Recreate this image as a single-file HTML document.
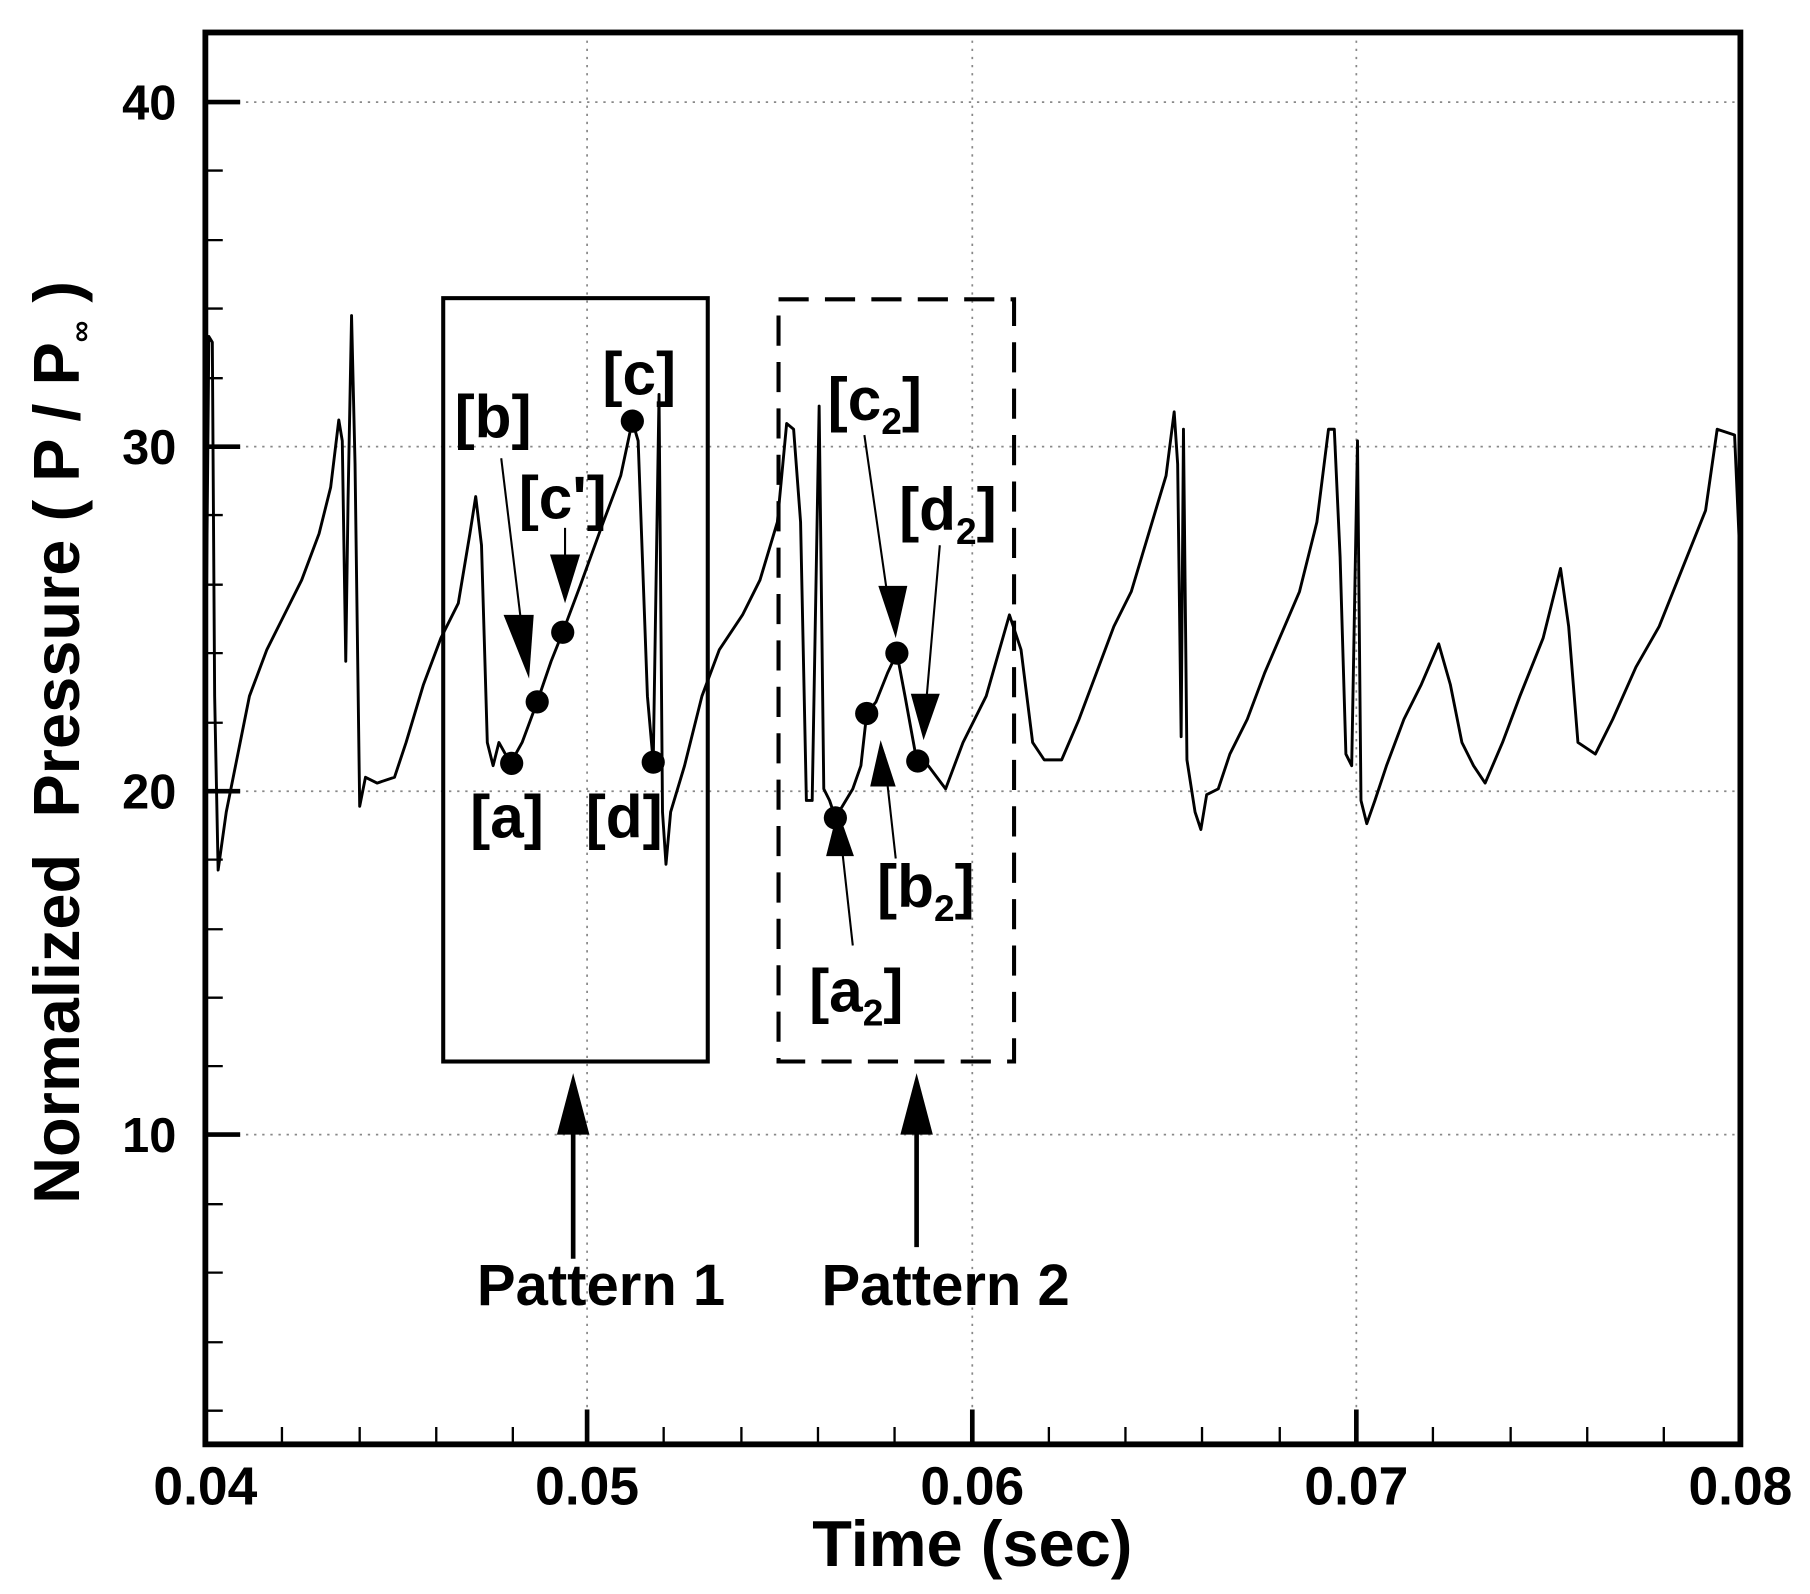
<!DOCTYPE html>
<html><head><meta charset="utf-8"><style>
html,body{margin:0;padding:0;background:#fff;}
svg{display:block;}
text{font-family:"Liberation Sans",Arial,sans-serif;font-weight:bold;fill:#000;}
</style></head><body>
<svg width="1810" height="1594" viewBox="0 0 1560 1374" preserveAspectRatio="none" xmlns="http://www.w3.org/2000/svg">
<rect width="1560" height="1374" fill="#fff"/>
<g stroke="#888" stroke-width="1.5" stroke-dasharray="2,5">
<line x1="506" y1="28" x2="506" y2="1245"/><line x1="838" y1="28" x2="838" y2="1245"/><line x1="1169" y1="28" x2="1169" y2="1245"/>
<line x1="177" y1="88" x2="1500" y2="88"/><line x1="177" y1="385" x2="1500" y2="385"/><line x1="177" y1="682" x2="1500" y2="682"/><line x1="177" y1="978" x2="1500" y2="978"/>
</g>
<g stroke="#000" stroke-width="2">
<path d="M177 147h15M177 207h15M177 266h15M177 326h15M177 444h15M177 504h15M177 563h15M177 623h15M177 741h15M177 801h15M177 860h15M177 919h15M177 1038h15M177 1097h15M177 1157h15M177 1216h15"/>
<path d="M243 1245v-15M310 1245v-15M376 1245v-15M442 1245v-15M572 1245v-15M639 1245v-15M705 1245v-15M771 1245v-15M904 1245v-15M970 1245v-15M1036 1245v-15M1103 1245v-15M1235 1245v-15M1302 1245v-15M1368 1245v-15M1434 1245v-15"/>
</g>
<g stroke="#000" stroke-width="4">
<path d="M177 88h30M177 385h30M177 682h30M177 978h30M506 1245v-30M838 1245v-30M1169 1245v-30"/>
</g>
<rect x="177" y="28" width="1323" height="1217" fill="none" stroke="#000" stroke-width="5"/>
<g font-size="42" text-anchor="end"><text x="152" y="103">40</text><text x="152" y="400">30</text><text x="152" y="697">20</text><text x="152" y="993">10</text></g>
<g font-size="46" text-anchor="middle"><text x="177" y="1297">0.04</text><text x="506" y="1297">0.05</text><text x="838" y="1297">0.06</text><text x="1169" y="1297">0.07</text><text x="1500" y="1297">0.08</text></g>
<text x="838" y="1350" font-size="56" text-anchor="middle">Time (sec)</text>
<text transform="translate(68,640) rotate(-90)" font-size="56" text-anchor="middle" xml:space="preserve">Normalized  Pressure ( P / P<tspan font-size="26" dy="10">∞</tspan><tspan dy="-10"> )</tspan></text>
<polyline fill="none" stroke="#000" stroke-width="2.5" stroke-linejoin="round" points="177,620 180,290 183,295 185,600 188,750 195,700 205,650 215,600 230,560 245,530 260,500 275,460 285,420 292,362 295,380 298,570 300,430 303,272 306,400 310,695 315,670 325,675 340,670 350,640 365,590 380,550 395,520 405,460 410,428 415,470 420,640 425,660 430,640 440,658 450,640 463,605 475,570 485,545 500,505 520,450 535,410 545,363 550,380 558,600 563,657 568,340 571,700 574,745 578,700 590,660 605,600 620,560 640,530 655,500 670,450 678,365 684,370 690,450 695,690 700,690 706,350 710,680 715,690 720,705 735,680 742,660 747,615 755,605 765,580 773,563 780,600 790,655 800,660 815,680 830,640 850,600 870,530 880,560 890,640 900,655 915,655 930,620 945,580 960,540 975,510 990,460 1005,410 1012,355 1015,400 1018,635 1020,370 1023,655 1030,700 1035,715 1040,685 1050,680 1060,650 1075,620 1090,580 1105,545 1120,510 1135,450 1145,370 1150,370 1155,480 1160,650 1165,660 1170,380 1173,690 1178,710 1185,690 1195,660 1210,620 1225,590 1240,555 1250,590 1260,640 1270,660 1280,675 1295,640 1310,600 1330,550 1345,490 1352,540 1360,640 1375,650 1390,620 1410,575 1430,540 1450,490 1470,440 1480,370 1495,375 1500,490"/>
<rect x="382" y="257" width="228" height="658" fill="none" stroke="#000" stroke-width="3.5"/>
<rect x="671" y="258" width="203" height="657" fill="none" stroke="#000" stroke-width="3.5" stroke-dasharray="26,14"/>
<g fill="#000">
<circle cx="441" cy="658" r="10"/><circle cx="463" cy="605" r="10"/><circle cx="485" cy="545" r="10"/><circle cx="545" cy="363" r="10"/><circle cx="563" cy="657" r="10"/>
<circle cx="720" cy="705" r="10"/><circle cx="747" cy="615" r="10"/><circle cx="773" cy="563" r="10"/><circle cx="791" cy="656" r="10"/>
</g>
<g stroke="#000" stroke-width="1.8">
<line x1="432" y1="395" x2="452" y2="560"/><line x1="487" y1="455" x2="487" y2="500"/>
<line x1="745" y1="375" x2="768" y2="535"/><line x1="810" y1="470" x2="797" y2="620"/>
<line x1="772" y1="740" x2="762" y2="650"/><line x1="735" y1="815" x2="725" y2="725"/>
</g>
<g fill="#000">
<polygon points="434,530 460,530 456,585"/><polygon points="474,478 500,478 487,520"/>
<polygon points="757,505 782,505 772,550"/><polygon points="785,598 810,598 796,638"/>
<polygon points="750,678 772,678 759,638"/><polygon points="712,738 736,738 722,698"/>
</g>
<g stroke="#000" stroke-width="4"><line x1="494" y1="1085" x2="494" y2="950"/><line x1="790" y1="1075" x2="790" y2="950"/></g>
<g fill="#000"><polygon points="480,978 508,978 494,925"/><polygon points="776,978 804,978 790,925"/></g>
<g font-size="52" text-anchor="middle">
<text x="425" y="377">[b]</text><text x="485" y="447">[c']</text><text x="551" y="340">[c]</text>
<text x="437" y="722">[a]</text><text x="538" y="722">[d]</text>
<text x="754" y="362">[c<tspan font-size="32" dy="12">2</tspan><tspan dy="-12">]</tspan></text>
<text x="817" y="457">[d<tspan font-size="32" dy="12">2</tspan><tspan dy="-12">]</tspan></text>
<text x="798" y="782">[b<tspan font-size="32" dy="12">2</tspan><tspan dy="-12">]</tspan></text>
<text x="738" y="872">[a<tspan font-size="32" dy="12">2</tspan><tspan dy="-12">]</tspan></text>
<text x="518" y="1125" font-size="50">Pattern 1</text><text x="815" y="1125" font-size="50">Pattern 2</text>
</g>
</svg>
</body></html>
